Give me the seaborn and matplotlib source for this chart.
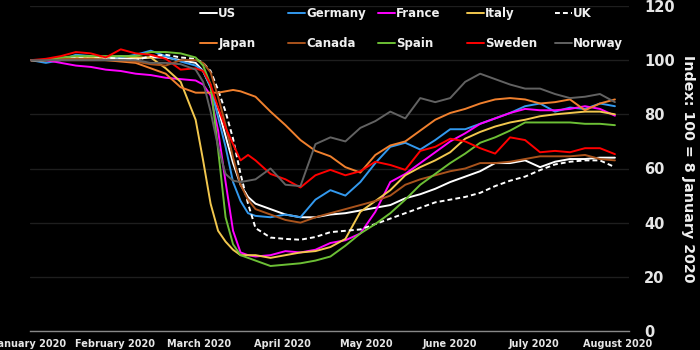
import numpy as np
import pandas as pd
import matplotlib
matplotlib.use("Agg")
import matplotlib.pyplot as plt
import seaborn as sns

# Days since 8 January 2020 (every 5 days, every 2.5 days through the March drop)
days = [0, 5, 10, 15, 20, 25, 30, 35, 40, 45, 50, 55,
        57.5, 60, 62.5, 65, 67.5, 70, 72.5, 75,
        80, 85, 90, 95, 100, 105, 110, 115, 120, 125, 130, 135, 140,
        145, 150, 155, 160, 165, 170, 175, 180, 185, 190, 195]

tick_labels = ["January 2020", "February 2020", "March 2020", "April 2020",
               "May 2020", "June 2020", "July 2020", "August 2020"]

us = [100, 100, 100.5, 101, 101, 101, 100.5, 100.5, 101, 101, 100, 99,
      96, 90, 82, 72, 62, 54, 49.5, 47,
      45, 43, 42, 42, 43, 43.5, 44.5, 45.5, 46.5, 49, 50.5, 52.5, 55,
      57, 59, 62, 62, 63, 60.5, 62.5, 63.5, 63.5, 64, 64]
germany = [100, 99, 100, 102, 101.5, 101, 101, 102, 103.5, 101.5, 99.5, 98,
           96, 90, 79, 68, 55, 48, 43.5, 42.5,
           42, 43, 42, 48.5, 52, 50, 55, 62, 68, 69.5, 67, 70.5, 74.5,
           74.5, 76.5, 78.5, 80.5, 83, 84, 81, 82.5, 82, 84, 83]
france = [100, 100, 99, 98, 97.5, 96.5, 96, 95, 94.5, 93.5, 93, 92.5,
          91, 87, 74, 55, 37, 29, 28, 27.5,
          28, 29.5, 29, 30, 32.5, 33.5, 36, 44, 55, 58, 62, 66, 70,
          73, 76.5, 78.5, 80.5, 82, 81.5, 81.5, 82, 83, 82, 79.5]
italy = [100, 100, 100.5, 101, 101, 101, 101.5, 101, 101, 97, 92, 78,
         63, 47, 37, 33, 30, 28, 28, 28,
         27, 28, 29, 29.5, 31, 34, 44, 48, 52, 57.5, 60.5, 63, 66,
         71, 73.5, 75.5, 77, 78, 79.3, 80, 80.5, 81, 81, 80]
uk = [100, 100, 100.5, 101, 101.5, 101, 100.5, 100, 101.5, 102, 101, 100.5,
      99, 96, 89, 81, 71, 58, 47, 38,
      34.5, 34, 33.7, 34.7, 36.5, 37, 37.5, 39.5, 41.5, 43.5, 45.5, 47.5, 48.5,
      49.5, 51, 53.5, 55.5, 57, 59.4, 61.5, 62.5, 63, 63, 60.5]
japan = [100, 100, 100, 100, 100, 100, 99.5, 99, 97, 95, 90, 88,
         88, 88, 88, 88.5, 89, 88.5, 87.5, 86.5,
         81, 76, 70.5, 66.5, 64.5, 60.5, 58.5, 65, 68.5, 70, 74, 78, 80.5,
         82, 84, 85.5, 86, 85.5, 84, 84.5, 85.5, 81.5, 84, 85.5]
canada = [100, 100, 100.5, 100.5, 100.5, 100, 100, 99.5, 98.5, 98, 100, 100,
          99, 95.5, 86.5, 76, 64, 54, 48.5, 45,
          43, 41, 40, 42, 43.5, 45, 46.5, 48, 50, 54, 56, 57.5, 59,
          60, 62, 62, 62.5, 63.5, 64.5, 64.5, 64.5, 65, 63.5, 63]
spain = [100, 100, 101, 101.5, 101.5, 101.5, 101.5, 101.5, 103, 103, 102.5, 101,
         98, 91, 67, 42, 32, 28, 27, 26,
         24, 24.5, 25, 26, 27.5, 31.5, 36, 39.5, 43.5, 48.5, 54, 58, 62,
         65.5, 69.5, 71.5, 74, 77, 77, 77, 77, 76.5, 76.5, 76]
sweden = [100, 100.5, 101.5, 103, 102.5, 101, 104, 102.5, 102, 100.5, 96.5, 97,
          96, 91, 82.5, 75, 69, 63, 65, 63,
          58, 56, 53, 57.5, 59.5, 57.5, 59, 62.5, 61.3, 59.5, 66.5, 68, 71,
          70, 67.5, 65.5, 71.5, 70.5, 66, 66.5, 66, 67.5, 67.5, 65.3]
norway = [100, 100, 100, 100, 100, 100, 100, 100, 99, 99, 98.5, 96.5,
          92, 81, 68, 58, 55.5, 55, 55.5, 56,
          60, 54, 53.5, 69, 71.5, 70, 75, 77.5, 81, 78.5, 86, 84.5, 86,
          92, 95, 93, 91, 89.5, 89.5, 87.5, 86, 86.5, 87.5, 84.5]

countries = ["US", "Germany", "France", "Italy", "UK",
             "Japan", "Canada", "Spain", "Sweden", "Norway"]
series = [us, germany, france, italy, uk, japan, canada, spain, sweden, norway]

colors = {"US": "#ffffff", "Germany": "#3399ee", "France": "#ff00ff",
          "Italy": "#f2c74e", "UK": "#ffffff", "Japan": "#f0802e",
          "Canada": "#a9531c", "Spain": "#6cbf35", "Sweden": "#ff0000",
          "Norway": "#626262"}
dashes = {c: "" for c in countries}
dashes["UK"] = (2.5, 1.6)

df = pd.DataFrame({"day": days})
for c, s in zip(countries, series):
    df[c] = s
long = df.melt(id_vars="day", var_name="country", value_name="value")

sns.set_style("dark")
plt.rcParams["font.family"] = ["DejaVu Sans"]
plt.rcParams["font.weight"] = "bold"

fig = plt.figure(figsize=(7, 3.5), dpi=100, facecolor="black")
ax = fig.add_axes([30 / 700, 19 / 350, 599 / 700, 325 / 350])
ax.set_facecolor("black")

sns.lineplot(data=long, x="day", y="value", hue="country", style="country",
             hue_order=countries, style_order=countries,
             palette=colors, dashes=dashes, linewidth=1.4, ax=ax, legend=True)

handles, labels = ax.get_legend_handles_labels()
hmap = dict(zip(labels, handles))
ax.get_legend().remove()

ax.set_xlim(-0.3, 199.7)
ax.set_ylim(0, 120)
total = 196
ax.set_xticks([i * total / 7 for i in range(8)])
ax.set_xticklabels(tick_labels)
ax.set_yticks(range(0, 121, 20))
ax.yaxis.tick_right()
ax.tick_params(axis="y", length=0, pad=11, labelsize=10.5, labelcolor="#e6e6e6")
ax.tick_params(axis="x", direction="out", length=2.5, color="#888888", pad=3,
               labelsize=7, labelcolor="#e6e6e6")
for lab in ax.get_xticklabels() + ax.get_yticklabels():
    lab.set_fontweight("bold")

ax.grid(axis="y", color="#1e1e1e", linewidth=1)
ax.grid(axis="x", visible=False)
for sp in ["top", "left", "right"]:
    ax.spines[sp].set_visible(False)
ax.spines["bottom"].set_color("#888888")
ax.spines["bottom"].set_linewidth(1)
ax.set_xlabel("")

ax.yaxis.set_label_position("right")
ax.set_ylabel("Index: 100 = 8 January 2020", fontsize=10.3, fontweight="bold",
              color="#f0f0f0")
ax.yaxis.label.set_rotation(270)
ax.yaxis.label.set_rotation_mode("default")
ax.yaxis.label.set_ha("center")
ax.yaxis.label.set_va("center")
ax.yaxis.set_label_coords(658 / 599, 0.5)

col_x = [200, 288, 378, 467, 555]
cols = [("US", "Japan"), ("Germany", "Canada"), ("France", "Spain"),
        ("Italy", "Sweden"), ("UK", "Norway")]
for x0, pair in zip(col_x, cols):
    leg = fig.legend([hmap[p] for p in pair], list(pair), loc="upper left",
                     bbox_to_anchor=(x0 / 700, 1 - 7 / 350), frameon=False,
                     borderpad=0, borderaxespad=0, handlelength=1.45,
                     handletextpad=0.1, labelspacing=1.45,
                     prop={"size": 8.5, "weight": "bold"})
    for t in leg.get_texts():
        t.set_color("#f0f0f0")

fig.savefig("out.png", dpi=100, facecolor="black")
